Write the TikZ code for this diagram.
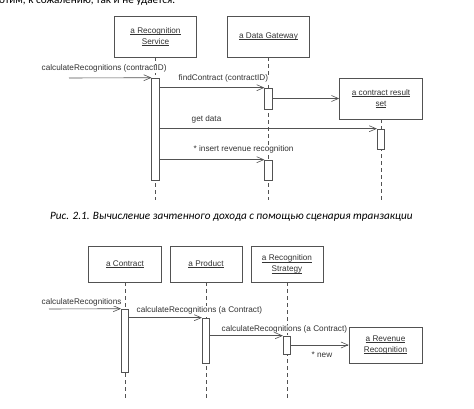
\documentclass[tikz,border=0pt]{standalone}
\usepackage{fontspec}
\setmainfont{Liberation Sans}
\newfontfamily\capfont{Carlito}
\usetikzlibrary{arrows.meta}
\definecolor{lncol}{gray}{0.32}
\definecolor{txtcol}{gray}{0.2}
\newcommand\myul[1]{\setbox0\hbox{#1}\leavevmode\rlap{\rule[-1.4pt]{\wd0}{0.45pt}}\box0}
\begin{document}
\begin{tikzpicture}[x=1pt,y=-1pt,
  obj/.style={draw=lncol, line width=0.6pt, fill=white, inner sep=0pt, align=center,
    font=\fontsize{8.2}{11}\selectfont, text=txtcol},
  act/.style={draw=lncol, line width=0.6pt, fill=white, minimum width=7.5pt, inner sep=0pt},
  life/.style={draw=lncol, line width=0.6pt, dash pattern=on 4pt off 3pt},
  msg/.style={draw=lncol, line width=0.6pt, -{Straight Barb[length=7pt,width=6pt]}},
  lbl/.style={font=\fontsize{8.2}{10}\selectfont, text=txtcol, fill=white, inner sep=0.5pt, anchor=base west},
  captxt/.style={font=\capfont\itshape\fontsize{11.2}{13}\selectfont, inner sep=0pt, anchor=base west},
  toptxt/.style={font=\capfont\fontsize{11.2}{13}\selectfont, inner sep=0pt, anchor=base west}
]
\useasboundingbox[fill=white] (0,0) rectangle (474,409);

\node[toptxt] (top) at (-1,4) {отим, к сожалению, так и не удается.};

% ---------- diagram 1 ----------
\node[obj, minimum width=82pt, minimum height=41pt] (svc) at (155.5,36.5) {\myul{a Recognition}\\\myul{Service}};
\node[obj, minimum width=82pt, minimum height=41pt] (gw) at (268.5,36.5) {\myul{a Data Gateway}};
\node[obj, minimum width=83pt, minimum height=41pt] (rs) at (381,98.5) {\myul{a contract result}\\\myul{set}};

\coordinate (e1) at (155.5,200);
\coordinate (e2) at (268.5,200);
\coordinate (e3) at (381,200);
\draw[life] (svc.south) -- (e1);
\draw[life] (gw.south) -- (e2);
\draw[life] (rs.south) -- (e3);

\node[act, minimum height=102pt] (a1) at (155.5,129) {};
\node[act, minimum height=21pt] (a2) at (268.5,98.5) {};
\node[act, minimum height=20pt] (a3) at (381,139) {};
\node[act, minimum height=20pt] (a4) at (268.5,170) {};

\coordinate (s1) at (69,78);
\draw[msg] (s1) -- (a1.north west);
\draw[msg] (a1.east |- a2.north) -- (a2.north west);
\draw[msg] (a2.east |- rs.west) -- (rs.west);
\draw[msg] (a1.east |- a3.north) -- (a3.north west);
\draw[msg] (a1.east |- a4.north) -- (a4.north west);

\node[lbl] (l1) at (41,71) {calculateRecognitions (contractID)};
\node[lbl] (l2) at (178,81) {findContract (contractID)};
\node[lbl] (l3) at (191,121.5) {get data};
\node[lbl] (l4) at (193,152) {* insert revenue recognition};

\node[captxt] (cap1) at (50,219) {Рис. 2.1. Вычисление зачтенного дохода с помощью сценария транзакции};

% ---------- diagram 2 ----------
\node[obj, minimum width=73pt, minimum height=36pt] (con) at (125,264) {\myul{a Contract}};
\node[obj, minimum width=72pt, minimum height=36pt] (prod) at (206,264) {\myul{a Product}};
\node[obj, minimum width=72pt, minimum height=36pt] (strat) at (287,264) {\myul{a Recognition}\\\myul{Strategy}};
\node[obj, minimum width=73pt, minimum height=36pt] (rr) at (385.5,345) {\myul{a Revenue}\\\myul{Recognition}};

\coordinate (f1) at (125,399);
\coordinate (f2) at (206,399);
\coordinate (f3) at (287,399);
\draw[life] (con.south) -- (f1);
\draw[life] (prod.south) -- (f2);
\draw[life] (strat.south) -- (f3);

\node[act, minimum height=63pt] (b1) at (125,340.5) {};
\node[act, minimum height=45pt] (b2) at (206,340.5) {};
\node[act, minimum height=18pt] (b3) at (287,345) {};

\coordinate (s2) at (49,309);
\draw[msg] (s2) -- (b1.north west);
\draw[msg] (b1.east |- b2.north) -- (b2.north west);
\draw[msg] (b2.east |- b3.north) -- (b3.north west);
\draw[msg] (b3.east |- rr.west) -- (rr.west);

\node[lbl] (m1) at (41,304) {calculateRecognitions};
\node[lbl] (m2) at (136,312) {calculateRecognitions (a Contract)};
\node[lbl] (m3) at (221,331) {calculateRecognitions (a Contract)};
\node[lbl] (m4) at (311,357) {* new};
\end{tikzpicture}
\end{document}
